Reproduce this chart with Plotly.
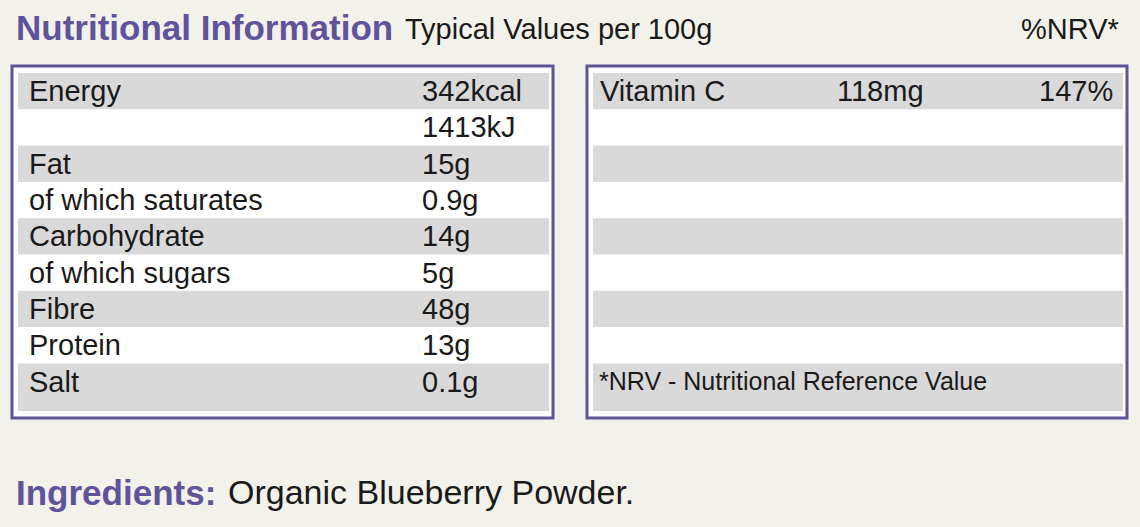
import plotly.graph_objects as go

# nutrition table data
labels = ["Energy", "", "Fat", "of which saturates", "Carbohydrate",
          "of which sugars", "Fibre", "Protein", "Salt"]
amounts = ["342kcal", "1413kJ", "15g", "0.9g", "14g", "5g", "48g", "13g", "0.1g"]
vit_names = ["Vitamin C"]
vit_amounts = ["118mg"]
vit_nrv = ["147%"]

PURPLE = "#5f539c"
GREY = "#d9d9d9"
BG = "#f3f2ea"
FONT = "Liberation Sans, Arial, sans-serif"

top, pitch, bottom = 73, 36.3, 411
fig = go.Figure()
shapes = []
ann = []

for box_x0, box_x1 in [(12, 553), (587, 1127)]:
    shapes.append(dict(type="rect", x0=box_x0, x1=box_x1, y0=66, y1=418,
                       fillcolor="white", line=dict(color=PURPLE, width=3), layer="below"))
    for i in range(len(labels)):
        y0 = top + i * pitch
        y1 = bottom if i == len(labels) - 1 else y0 + pitch
        if i % 2 == 0:
            shapes.append(dict(type="rect", x0=box_x0 + 6, x1=box_x1 - 4, y0=y0, y1=y1,
                               fillcolor=GREY, line=dict(width=0), layer="below"))

body = dict(family=FONT, size=29, color="#1a1a1a")
for i, (lab, amt) in enumerate(zip(labels, amounts)):
    yc = top + i * pitch + pitch / 2
    ann.append(dict(x=27, y=yc, text=lab, xanchor="left", font=body))
    ann.append(dict(x=420, y=yc, text=amt, xanchor="left", font=body))

for i, (n, a, p) in enumerate(zip(vit_names, vit_amounts, vit_nrv)):
    yc = top + i * pitch + pitch / 2
    ann.append(dict(x=598, y=yc, text=n, xanchor="left", font=body))
    ann.append(dict(x=835, y=yc, text=a, xanchor="left", font=body))
    ann.append(dict(x=1115, y=yc, text=p, xanchor="right", font=body))

ann += [
    dict(x=597, y=top + 8 * pitch + pitch / 2 - 1, text="*NRV - Nutritional Reference Value",
         xanchor="left", font=dict(family=FONT, size=25, color="#1a1a1a")),
    dict(x=14, y=27, text="<b>Nutritional Information</b>", xanchor="left",
         font=dict(family=FONT, size=35, color=PURPLE)),
    dict(x=403, y=29, text="Typical Values per 100g", xanchor="left",
         font=dict(family=FONT, size=29, color="#1a1a1a")),
    dict(x=1121, y=29, text="%NRV*", xanchor="right",
         font=dict(family=FONT, size=29, color="#1a1a1a")),
    dict(x=14, y=492, text="<b>Ingredients:</b>", xanchor="left",
         font=dict(family=FONT, size=35, color=PURPLE)),
    dict(x=226, y=492, text="Organic Blueberry Powder.", xanchor="left",
         font=dict(family=FONT, size=34, color="#1a1a1a")),
]
for a in ann:
    a.update(xref="x", yref="y", yanchor="middle", showarrow=False)

fig.update_layout(
    width=1140, height=527, margin=dict(l=0, r=0, t=0, b=0),
    paper_bgcolor=BG, plot_bgcolor=BG, shapes=shapes, annotations=ann,
    xaxis=dict(range=[0, 1140], visible=False, fixedrange=True),
    yaxis=dict(range=[527, 0], visible=False, fixedrange=True),
    showlegend=False,
)
fig.write_html("out.html", config={"displayModeBar": False},
               post_script="document.body.style.margin='0';document.body.style.overflow='hidden';")
